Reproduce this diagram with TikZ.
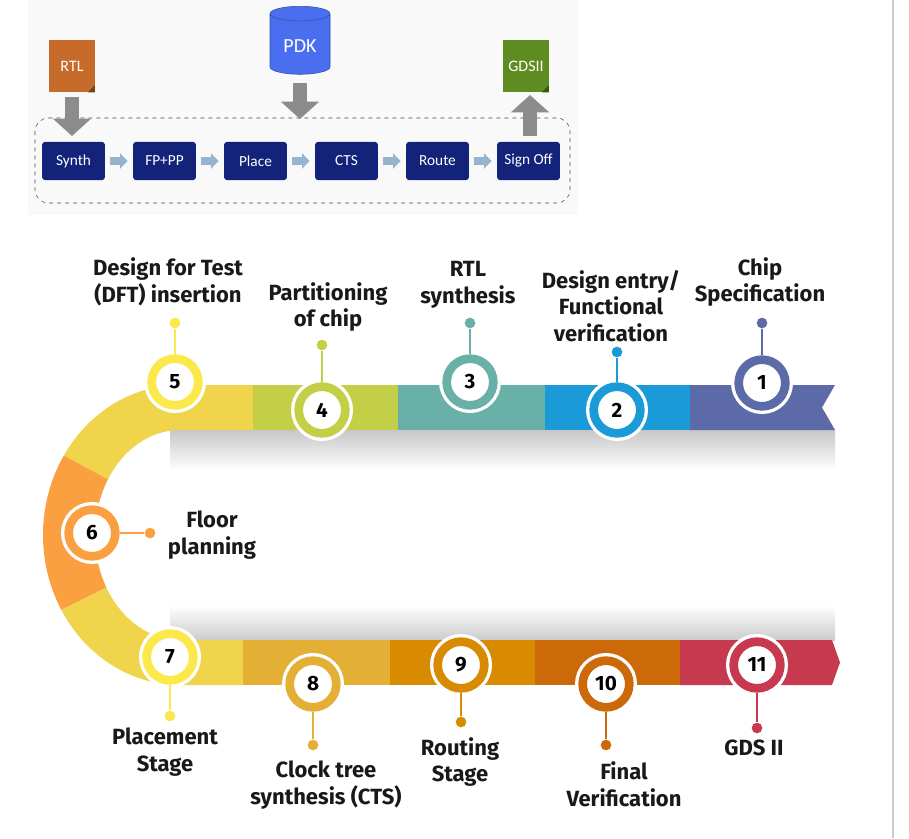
\documentclass[tikz,border=0pt]{standalone}
\usepackage{fontspec}
\setmainfont{Fira Sans}
\newfontfamily\topfont{Carlito}
\usetikzlibrary{shapes.geometric, arrows.meta, calc}
\definecolor{navy}{HTML}{13237A}
\definecolor{flowblue}{HTML}{94B4CF}
\definecolor{rtlorange}{HTML}{C76B2B}
\definecolor{pdkblue}{HTML}{4A6EF0}
\definecolor{gdsgreen}{HTML}{5E8C20}
\definecolor{cA}{HTML}{5C6AA8}
\definecolor{cB}{HTML}{1A9AD6}
\definecolor{cC}{HTML}{69B0A8}
\definecolor{cD}{HTML}{C3D047}
\definecolor{cE}{HTML}{F0D44C}
\definecolor{cF}{HTML}{FBA040}
\definecolor{cH}{HTML}{E3B035}
\definecolor{cI}{HTML}{D88A00}
\definecolor{cJ}{HTML}{CC6A0A}
\definecolor{cK}{HTML}{C6394E}
\definecolor{cE2}{HTML}{FBE84A}

\begin{document}
\begin{tikzpicture}[x=0.75pt, y=-0.75pt,
    stepbox/.style={rectangle, rounded corners=2pt, fill=navy, text=white, font=\topfont\fontsize{11.5}{12}\selectfont, minimum width=47pt, minimum height=28.5pt, inner sep=0pt},
    flow/.style={-{Triangle[length=5.5pt,width=11pt]}, line width=6pt, flowblue, shorten <=4pt, shorten >=4pt},
    bigarrow/.style={-{Triangle[length=13pt,width=28pt]}, line width=11pt, gray!90},
    doc/.style={rectangle, minimum width=34pt, minimum height=39pt, text=white, font=\topfont\fontsize{12}{12}\selectfont},
    num/.style={circle, fill=white, draw=#1, line width=6.5pt, minimum size=35pt, inner sep=0pt,
        font=\bfseries\fontsize{15.5}{16}\selectfont, preaction={draw=white, line width=11.5pt}},
    dot/.style={circle, fill=#1, minimum size=8pt, inner sep=0pt},
    stem/.style={#1, line width=2pt},
    lbl/.style={font=\bfseries\fontsize{16.5}{20}\selectfont, align=center, text=black!90},
    oarc/.style={x radius=102.75pt, y radius=112.5pt},
    iarc/.style={x radius=63.75pt, y radius=78.75pt}
]
\useasboundingbox (0,0) rectangle (909,838);
\fill[white] (0,0) rectangle (909,838);
\fill[black!2.5] (28,0) rectangle (578,215);
\draw[black!20, line width=1pt] (893,0) -- (893,838);

% ---- top flow ----
\draw[dashed, black!70, rounded corners=10pt] (35,118) rectangle (570,203);
\node[stepbox] (synth) at (73.5,161) {Synth};
\node[stepbox] (fppp) at (164.5,161) {FP+PP};
\node[stepbox] (place) at (255.5,161) {Place};
\node[stepbox] (cts) at (346.5,161) {CTS};
\node[stepbox] (route) at (437.5,161) {Route};
\node[stepbox] (signoff) at (528.5,161) {Sign Off};
\draw[flow] (synth) -- (fppp);
\draw[flow] (fppp) -- (place);
\draw[flow] (place) -- (cts);
\draw[flow] (cts) -- (route);
\draw[flow] (route) -- (signoff);

\node[doc, fill=rtlorange] (rtl) at (72,66) {RTL};
\fill[rtlorange!60!black] (rtl.south east) -- ++(-7,0) -- ++(7,-7) -- cycle;
\node[doc, fill=gdsgreen] (gds) at (526,66) {GDSII};
\fill[gdsgreen!60!black] (gds.south east) -- ++(-7,0) -- ++(7,-7) -- cycle;
\node[cylinder, shape border rotate=90, aspect=0.35, fill=pdkblue, draw=pdkblue!70!black,
      minimum width=45pt, minimum height=51pt, text=white, font=\topfont\fontsize{15}{16}\selectfont] (pdk) at (300,46) {PDK};
\coordinate (rtlfrom) at (72,97);
\coordinate (rtlin) at (72,136);
\coordinate (pdkfrom) at (300,83);
\coordinate (pdkin) at (300,119);
\coordinate (sofrom) at (530,136);
\coordinate (gdsout) at (530,95);
\draw[bigarrow] (rtlfrom) -- (rtlin);
\draw[bigarrow] (pdkfrom) -- (pdkin);
\draw[bigarrow] (sofrom) -- (gdsout);

% ---- road ----
\coordinate (cc) at (180,535);
\coordinate (o148) at ($(cc)+(148:102.75pt and 112.5pt)$);
\coordinate (o210) at ($(cc)+(210:102.75pt and 112.5pt)$);
\coordinate (i148) at ($(cc)+(148:63.75pt and 78.75pt)$);
\coordinate (i210) at ($(cc)+(210:63.75pt and 78.75pt)$);
\shade[top color=black!22, bottom color=white] (170,430) rectangle (835,470);
\shade[top color=white, bottom color=black!20] (170,605) rectangle (835,640);
\fill[cE] (253,385) -- (180,385) arc[start angle=90, end angle=148, oarc]
   -- (i148) arc[start angle=148, end angle=90, iarc] -- (253,430) -- cycle;
\fill[cF] (o148) arc[start angle=148, end angle=210, oarc]
   -- (i210) arc[start angle=210, end angle=148, iarc] -- cycle;
\fill[cE] (o210) arc[start angle=210, end angle=270, oarc]
   -- (243,685) -- (243,640) -- (180,640) arc[start angle=270, end angle=210, iarc] -- cycle;
\fill[cD] (253,385) rectangle (398,430);
\fill[cC] (398,385) rectangle (545,430);
\fill[cB] (545,385) rectangle (690,430);
\fill[cA] (690,385) -- (835,385) -- (822,407.5) -- (835,430) -- (690,430) -- cycle;
\fill[cH] (243,640) rectangle (390,685);
\fill[cI] (390,640) rectangle (535,685);
\fill[cJ] (535,640) rectangle (680,685);
\fill[cK] (680,640) -- (832,640) -- (840,662.5) -- (832,685) -- (680,685) -- cycle;

% ---- markers ----
\node[num=cA] (n1) at (762,383) {1};
\node[num=cB] (n2) at (617,410) {2};
\node[num=cC] (n3) at (470,382) {3};
\node[num=cD] (n4) at (322,410) {4};
\node[num=cE2] (n5) at (175,382) {5};
\node[num=cF] (n6) at (92,533) {6};
\node[num=cE2] (n7) at (170,657) {7};
\node[num=cH] (n8) at (313,684) {8};
\node[num=cI] (n9) at (461,665) {9};
\node[num=cJ] (n10) at (606,684) {10};
\node[num=cK] (n11) at (757,665) {11};

\node[dot=cA] (d1) at (762,323) {};
\node[dot=cB] (d2) at (617,352) {};
\node[dot=cC] (d3) at (470,323) {};
\node[dot=cD] (d4) at (322,345) {};
\node[dot=cE2] (d5) at (175,323) {};
\node[dot=cF] (d6) at (150,533) {};
\node[dot=cE2] (d7) at (170,716) {};
\node[dot=cH] (d8) at (313,745) {};
\node[dot=cI] (d9) at (461,722) {};
\node[dot=cJ] (d10) at (606,745) {};
\node[dot=cK] (d11) at (757,728) {};

\draw[stem=cA] (n1.north) -- (d1);
\draw[stem=cB] (n2.north) -- (d2);
\draw[stem=cC] (n3.north) -- (d3);
\draw[stem=cD] (n4.north) -- (d4);
\draw[stem=cE2] (n5.north) -- (d5);
\draw[stem=cF] (n6.east) -- (d6);
\draw[stem=cE2] (n7.south) -- (d7);
\draw[stem=cH] (n8.south) -- (d8);
\draw[stem=cI] (n9.south) -- (d9);
\draw[stem=cJ] (n10.south) -- (d10);
\draw[stem=cK] (n11.south) -- (d11);

% ---- labels ----
\node[lbl] (l1) at (760,282) {Chip\\Specification};
\node[lbl] (l2) at (611,306) {Design entry/\\Functional\\verification};
\node[lbl] (l3) at (468,285) {RTL\\synthesis};
\node[lbl] (l4) at (328,307) {Partitioning\\of chip};
\node[lbl] (l5) at (168,282) {Design for Test\\(DFT) insertion};
\node[lbl] (l6) at (212,535) {Floor\\planning};
\node[lbl] (l7) at (165,752) {Placement\\Stage};
\node[lbl] (l8) at (326,785) {Clock tree\\synthesis (CTS)};
\node[lbl] (l9) at (460,762) {Routing\\Stage};
\node[lbl] (l10) at (624,784) {Final\\Verification};
\node[lbl] (l11) at (754,748) {GDS II};
\end{tikzpicture}
\end{document}
